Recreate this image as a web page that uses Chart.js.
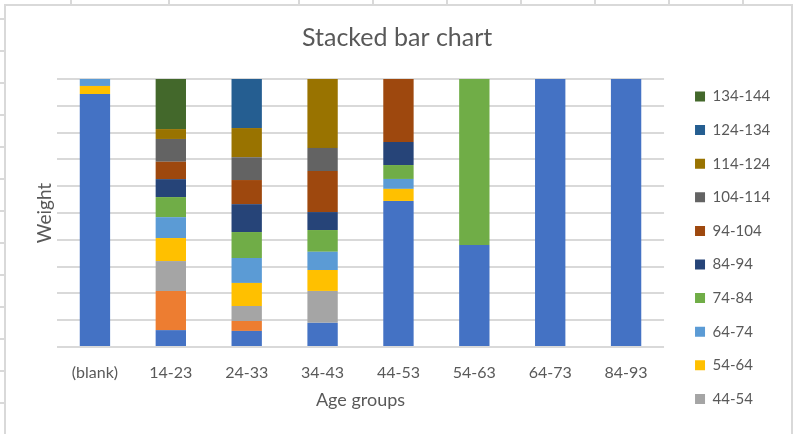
<!DOCTYPE html>
<html>
<head>
<meta charset="utf-8">
<title>Stacked bar chart</title>
<script src="https://cdn.jsdelivr.net/npm/chart.js@4.4.1/dist/chart.umd.min.js"></script>
<style>
  html, body { margin: 0; padding: 0; background: #fff; overflow: hidden; }
  #wrap { position: relative; width: 794px; height: 434px; }
  #frame { position: absolute; left: 4px; top: 4px; width: 789px; height: 500px; box-sizing: border-box;
           border: 2px solid #d9d9d9; pointer-events: none; }
  .cell { position: absolute; background: #d9d9d9; }
</style>
</head>
<body>
<div id="wrap">
  <canvas id="myChart"></canvas>
  <div id="frame"></div>
</div>
<script>
// age groups on the x axis
const ageGroups = ["(blank)", "14-23", "24-33", "34-43", "44-53", "54-63", "64-73", "84-93"];

// weight groups (series), bottom of the stack first
const weightGroups = ["24-34", "34-44", "44-54", "54-64", "64-74", "74-84", "84-94", "94-104", "104-114", "114-124", "124-134", "134-144"];

// share of each weight group per age group (%)
const w24_34   = [94.4,  6.3,  6.0,  9.0, 54.5, 38.1, 100, 100];
const w34_44   = [0,    14.6,  3.7,  0,    0,    0,     0,   0];
const w44_54   = [0,    11.2,  5.6, 11.9,  0,    0,     0,   0];
const w54_64   = [3.0,   8.6,  8.6,  7.8,  4.5,  0,     0,   0];
const w64_74   = [2.6,   7.8,  9.3,  6.8,  3.7,  0,     0,   0];
const w74_84   = [0,     7.5,  9.7,  8.1,  5.2, 61.9,   0,   0];
const w84_94   = [0,     6.7, 10.4,  6.7,  8.6,  0,     0,   0];
const w94_104  = [0,     6.5,  9.0, 15.3, 23.5,  0,     0,   0];
const w104_114 = [0,     8.5,  8.5,  8.6,  0,    0,     0,   0];
const w114_124 = [0,     3.7, 10.9, 25.7,  0,    0,     0,   0];
const w124_134 = [0,     0,   18.3,  0,    0,    0,     0,   0];
const w134_144 = [0,    18.7,  0,    0,    0,    0,     0,   0];

const seriesValues = [w24_34, w34_44, w44_54, w54_64, w64_74, w74_84, w84_94, w94_104, w104_114, w114_124, w124_134, w134_144];

const seriesColors = ["#4472C4", "#ED7D31", "#A5A5A5", "#FFC000", "#5B9BD5", "#70AD47",
                      "#264478", "#9E480E", "#636363", "#997300", "#255E91", "#43682B"];

// 100% stacked: every column is scaled to its own total
const totals = ageGroups.map((_, i) => seriesValues.reduce((sum, arr) => sum + arr[i], 0));

const datasets = weightGroups.map((name, s) => ({
  label: name,
  data: seriesValues[s].map((v, i) => (totals[i] ? v / totals[i] * 100 : 0)),
  backgroundColor: seriesColors[s],
  borderWidth: 0,
  barPercentage: 0.4,
  categoryPercentage: 1
}));

Chart.defaults.font.family = "Lato, 'Open Sans', sans-serif";
Chart.defaults.color = "#595959";

new Chart(document.getElementById("myChart"), {
  type: "bar",
  data: { labels: ageGroups, datasets: datasets },
  options: {
    responsive: true,
    maintainAspectRatio: false,
    animation: false,
    layout: { padding: { top: 4, left: 14, right: 13.7, bottom: 6 } },
    plugins: {
      title: {
        display: true,
        text: "Stacked bar chart",
        font: { size: 25, weight: "normal" },
        color: "#595959",
        padding: { top: 19, bottom: 26 }
      },
      legend: {
        position: "right",
        align: "start",
        reverse: true,
        // blank title only pushes the items down to the plot top
        title: { display: true, text: " ", font: { size: 10 }, padding: { top: 54.4, bottom: 0 } },
        labels: {
          boxWidth: 10,
          boxHeight: 10,
          padding: 18.6,
          font: { size: 15 },
          color: "#595959",
          // the two lowest entries fall below the visible part of the chart
          filter: (item) => item.datasetIndex >= 2
        }
      },
      tooltip: { enabled: false }
    },
    scales: {
      x: {
        stacked: true,
        grid: { display: false, drawTicks: false },
        border: { display: false },
        ticks: { padding: 16, font: { size: 16 }, color: "#595959" },
        title: { display: true, text: "Age groups", font: { size: 18 }, color: "#595959", padding: { top: -9, bottom: 17.2 } }
      },
      y: {
        stacked: true,
        min: 0,
        max: 100,
        ticks: { display: false, stepSize: 10 },
        grid: { color: "#d9d9d9", lineWidth: 2, drawTicks: false },
        border: { display: false },
        title: { display: true, text: "Weight", font: { size: 19 }, color: "#595959", padding: { top: 19.1, bottom: 1.1 } }
      },
      // empty spacer between plot and legend
      gapRight: {
        type: "linear", position: "right", display: true,
        ticks: { display: false }, grid: { display: false, drawTicks: false }, border: { display: false },
        afterFit: (scale) => { scale.width = 12.4; }
      }
    }
  }
});

// spreadsheet cell lines peeking out around the chart frame
const wrap = document.getElementById("wrap");
[70, 168, 298, 372, 446, 520, 594, 668, 742].forEach((cx) => {
  const d = document.createElement("div");
  d.className = "cell";
  d.style.cssText = "left:" + cx + "px;top:0;width:2px;height:5px";
  wrap.appendChild(d);
});
for (let cy = 18; cy < 434; cy += 32) {
  const d = document.createElement("div");
  d.className = "cell";
  d.style.cssText = "left:0;top:" + cy + "px;width:5px;height:2px";
  wrap.appendChild(d);
}
</script>
</body>
</html>
